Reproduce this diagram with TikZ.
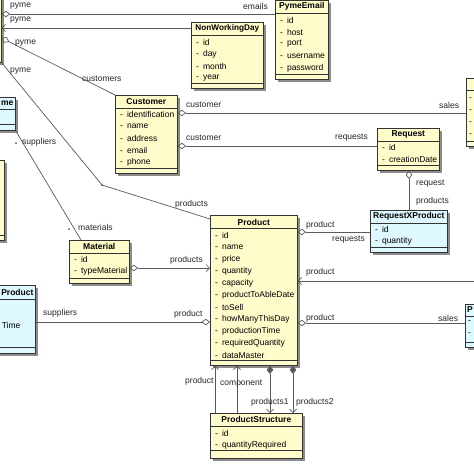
\documentclass[tikz,border=0pt]{standalone}
\usepackage{fontspec}
\setmainfont{Liberation Sans}
\usepackage{xcolor}
\usepackage{tikz}
\usetikzlibrary{calc, arrows.meta, shadows}

\definecolor{umlyellow}{HTML}{FFFCCB}
\definecolor{umlcyan}{HTML}{DDF8FE}
\definecolor{linegray}{HTML}{5A5A5A}

\begin{document}
\begin{tikzpicture}[x=1pt, y=-1pt,
    classbox/.style={draw=black!80, line width=0.6pt, fill=umlyellow, anchor=north west, inner sep=0pt,
      drop shadow={shadow xshift=2.5pt, shadow yshift=-2.5pt, fill=black!45, opacity=1}},
    sep/.style={draw=black!80, line width=0.5pt},
    title/.style={font=\fontsize{8.5}{10}\selectfont\bfseries, inner sep=0pt},
    item/.style={font=\fontsize{8.5}{10}\selectfont, anchor=west, inner sep=0pt},
    lbl/.style={font=\fontsize{8.5}{10}\selectfont, text=black!85, anchor=west, inner sep=0pt},
    assoc/.style={draw=linegray, line width=0.7pt},
    agg/.style={assoc, {Diamond[open, length=8.5pt, width=6.5pt]}-},
    aggnav/.style={assoc, {Diamond[open, length=8.5pt, width=6.5pt]}-{Straight Barb[length=3.5pt, width=7pt]}},
    comp/.style={assoc, {Diamond[length=8.5pt, width=6.5pt]}-{Straight Barb[length=3.5pt, width=7pt]}},
    nav/.style={assoc, -{Straight Barb[length=3.5pt, width=7pt]}}]

    % page
    \useasboundingbox (0,0) rectangle (474,474);
    \fill[white] (0,0) rectangle (474,474);
    \clip (0,0) rectangle (474,474);

    % Pyme (cut at the left)
    \node[classbox, minimum width=31pt, minimum height=67pt] (pyme) at (-30,-5) {};

    % PymeEmail
    \node[classbox, minimum width=53pt, minimum height=79pt] (pymeemail) at (275,0) {};
    \draw[sep] ($(pymeemail.north west)+(0,13)$) -- ($(pymeemail.north east)+(0,13)$);
    \draw[sep] ($(pymeemail.south west)+(0,-5)$) -- ($(pymeemail.south east)+(0,-5)$);
    \node[title] (pymeemail-t) at ($(pymeemail.north)+(0,6.5)$) {PymeEmail};
    \foreach \t [count=\i from 0] in {id,host,port,username,password}
      \node[item] (pymeemail-\i) at ($(pymeemail.north west)+(5,20+12*\i)$) {-\hspace{4pt}\t};

    % NonWorkingDay
    \node[classbox, minimum width=72pt, minimum height=66pt] (nonworking) at (191,22) {};
    \draw[sep] ($(nonworking.north west)+(0,13)$) -- ($(nonworking.north east)+(0,13)$);
    \draw[sep] ($(nonworking.south west)+(0,-5)$) -- ($(nonworking.south east)+(0,-5)$);
    \node[title, font=\fontsize{8.2}{10}\selectfont\bfseries] (nonworking-t) at ($(nonworking.north)+(0,6.5)$) {NonWorkingDay};
    \foreach \t [count=\i from 0] in {id,day,month,year}
      \node[item] (nonworking-\i) at ($(nonworking.north west)+(5,20+12*\i)$) {-\hspace{4pt}\t};

    % Customer
    \node[classbox, minimum width=62pt, minimum height=78pt] (customer) at (115,95) {};
    \draw[sep] ($(customer.north west)+(0,13)$) -- ($(customer.north east)+(0,13)$);
    \draw[sep] ($(customer.south west)+(0,-5)$) -- ($(customer.south east)+(0,-5)$);
    \node[title] (customer-t) at ($(customer.north)+(0,6.5)$) {Customer};
    \foreach \t [count=\i from 0] in {identification,name,address,email,phone}
      \node[item] (customer-\i) at ($(customer.north west)+(5,19+12*\i)$) {-\hspace{4pt}\t};

    % Request
    \node[classbox, minimum width=62pt, minimum height=42pt] (request) at (377,128) {};
    \draw[sep] ($(request.north west)+(0,13)$) -- ($(request.north east)+(0,13)$);
    \draw[sep] ($(request.south west)+(0,-5)$) -- ($(request.south east)+(0,-5)$);
    \node[title] (request-t) at ($(request.north)+(0,6.5)$) {Request};
    \foreach \t [count=\i from 0] in {id,creationDate}
      \node[item] (request-\i) at ($(request.north west)+(5,19+12*\i)$) {-\hspace{4pt}\t};

    % RequestXProduct
    \node[classbox, fill=umlcyan, minimum width=77pt, minimum height=42pt] (reqxprod) at (370,210) {};
    \draw[sep] ($(reqxprod.north west)+(0,13)$) -- ($(reqxprod.north east)+(0,13)$);
    \draw[sep] ($(reqxprod.south west)+(0,-5)$) -- ($(reqxprod.south east)+(0,-5)$);
    \node[title] (reqxprod-t) at ($(reqxprod.north)+(0,6.5)$) {RequestXProduct};
    \foreach \t [count=\i from 0] in {id,quantity}
      \node[item] (reqxprod-\i) at ($(reqxprod.north west)+(5,19+12*\i)$) {-\hspace{4pt}\t};

    % left boxes (cut)
    \node[classbox, fill=umlcyan, minimum width=45pt, minimum height=33pt] (supplier) at (-30,97) {};
    \draw[sep] ($(supplier.north west)+(0,12)$) -- ($(supplier.north east)+(0,12)$);
    \draw[sep] ($(supplier.south west)+(0,-6)$) -- ($(supplier.south east)+(0,-6)$);
    \node[title, anchor=east] (supplier-t) at ($(supplier.north east)+(-2,6.5)$) {me};

    \node[classbox, minimum width=34pt, minimum height=80pt] (leftbox) at (-30,160) {};
    \draw[sep] ($(leftbox.south west)+(0,-5)$) -- ($(leftbox.south east)+(0,-5)$);

    \node[classbox, fill=umlcyan, minimum width=75pt, minimum height=68pt] (leftprod) at (-40,285) {};
    \draw[sep] ($(leftprod.north west)+(0,14)$) -- ($(leftprod.north east)+(0,14)$);
    \draw[sep] ($(leftprod.south west)+(0,-6)$) -- ($(leftprod.south east)+(0,-6)$);
    \node[title, anchor=east] (leftprod-t) at ($(leftprod.north east)+(-2,7)$) {Product};
    \node[item, anchor=east] (leftprod-0) at ($(leftprod.north east)+(-15,40)$) {Time};

    % Material
    \node[classbox, minimum width=60pt, minimum height=43pt] (material) at (69,240) {};
    \draw[sep] ($(material.north west)+(0,13)$) -- ($(material.north east)+(0,13)$);
    \draw[sep] ($(material.south west)+(0,-5)$) -- ($(material.south east)+(0,-5)$);
    \node[title] (material-t) at ($(material.north)+(0,6.5)$) {Material};
    \foreach \t [count=\i from 0] in {id,typeMaterial}
      \node[item] (material-\i) at ($(material.north west)+(5,19+12*\i)$) {-\hspace{4pt}\t};

    % Product
    \node[classbox, minimum width=87pt, minimum height=150pt] (product) at (210,215) {};
    \draw[sep] ($(product.north west)+(0,13)$) -- ($(product.north east)+(0,13)$);
    \draw[sep] ($(product.south west)+(0,-5)$) -- ($(product.south east)+(0,-5)$);
    \node[title] (product-t) at ($(product.north)+(0,7)$) {Product};
    \foreach \t [count=\i from 0] in {id,name,price,quantity,capacity,productToAbleDate,toSell,howManyThisDay,productionTime,requiredQuantity,dataMaster}
      \node[item] (product-\i) at ($(product.north west)+(5,20+12*\i)$) {-\hspace{4pt}\t};

    % ProductStructure
    \node[classbox, minimum width=92pt, minimum height=45pt] (pstruct) at (210,413) {};
    \draw[sep] ($(pstruct.north west)+(0,13)$) -- ($(pstruct.north east)+(0,13)$);
    \draw[sep] ($(pstruct.south west)+(0,-8)$) -- ($(pstruct.south east)+(0,-8)$);
    \node[title] (pstruct-t) at ($(pstruct.north)+(0,6.5)$) {ProductStructure};
    \foreach \t [count=\i from 0] in {id,quantityRequired}
      \node[item] (pstruct-\i) at ($(pstruct.north west)+(5,20+12*\i)$) {-\hspace{4pt}\t};

    % right boxes (cut)
    \node[classbox, minimum width=30pt, minimum height=68pt] (sales1) at (466,78) {};
    \draw[sep] ($(sales1.north west)+(0,12)$) -- ($(sales1.north east)+(0,12)$);
    \draw[sep] ($(sales1.south west)+(0,-5)$) -- ($(sales1.south east)+(0,-5)$);
    \foreach \i in {0,...,3}
      \node[item] (sales1-\i) at ($(sales1.north west)+(3,21+12*\i)$) {-};

    \node[classbox, fill=umlcyan, minimum width=30pt, minimum height=43pt] (sales2) at (465,304) {};
    \draw[sep] ($(sales2.north west)+(0,12)$) -- ($(sales2.north east)+(0,12)$);
    \draw[sep] ($(sales2.south west)+(0,-5)$) -- ($(sales2.south east)+(0,-5)$);
    \node[title, anchor=west] (sales2-t) at ($(sales2.north west)+(2,6)$) {P};
    \foreach \i in {0,1}
      \node[item] (sales2-\i) at ($(sales2.north west)+(3,18+12.5*\i)$) {-};

    % helper points
    \coordinate (bend) at (102,185);
    \coordinate (rightend) at (480,281);
    \coordinate (sdot) at (16,143);
    \coordinate (mdot) at (69,229);

    % connectors
    \draw[agg] (pyme.east |- 0,14) -- (pymeemail.west |- 0,14);
    \draw[nav] (nonworking.west |- 0,28) -- (pyme.east |- 0,28);
    \draw[agg] (pyme.east |- 0,38) -- (customer.north west);
    \draw[assoc] (pyme.south east) -- (bend) -- ($(product.north west)+(0,4)$);
    \draw[agg] (customer.east |- 0,113) -- (sales1.west |- 0,113);
    \draw[agg] (customer.east |- 0,146) -- (request.west |- 0,146);
    \draw[agg] (request.south -| 409,0) -- (reqxprod.north -| 409,0);
    \draw[agg] (product.east |- 0,232) -- (reqxprod.west |- 0,232);
    \draw[assoc] (supplier.south east) -- ($(material.north west)+(12,0)$);
    \draw[aggnav] (material.east |- 0,268) -- (product.west |- 0,268);
    \draw[nav] (rightend) -- (product.east |- 0,281);
    \draw[agg] (product.west |- 0,322) -- (leftprod.east |- 0,322);
    \draw[agg] (product.east |- 0,323) -- (sales2.west |- 0,323);
    \draw[nav] (pstruct.north -| 215,0) -- (product.south -| 215,0);
    \draw[nav] (pstruct.north -| 237,0) -- (product.south -| 237,0);
    \draw[comp] (product.south -| 270,0) -- (pstruct.north -| 270,0);
    \draw[comp] (product.south -| 293,0) -- (pstruct.north -| 293,0);

    % small dots
    \fill[linegray] (bend) circle (1);
    \fill[linegray] (sdot) circle (1);
    \fill[linegray] (mdot) circle (1);

    % labels
    \node[lbl] (l1) at (10,6) {pyme};
    \node[lbl] (l2) at (243,6) {emails};
    \node[lbl] (l3) at (10,20) {pyme};
    \node[lbl] (l4) at (15,43) {pyme};
    \node[lbl] (l5) at (82,79) {customers};
    \node[lbl] (l6) at (10,71) {pyme};
    \node[lbl] (l7) at (175,204) {products};
    \node[lbl] (l8) at (186,105) {customer};
    \node[lbl] (l9) at (439,105) {sales};
    \node[lbl] (l10) at (186,138) {customer};
    \node[lbl] (l11) at (335,138) {requests};
    \node[lbl] (l12) at (416,184) {request};
    \node[lbl] (l13) at (416,201) {products};
    \node[lbl] (l14) at (306,225) {product};
    \node[lbl] (l15) at (332,240) {requests};
    \node[lbl] (l16) at (22,142) {suppliers};
    \node[lbl] (l17) at (78,227) {materials};
    \node[lbl] (l18) at (170,260) {products};
    \node[lbl] (l19) at (306,272) {product};
    \node[lbl] (l20) at (43,313) {suppliers};
    \node[lbl] (l21) at (174,314) {product};
    \node[lbl] (l22) at (306,318) {product};
    \node[lbl] (l23) at (438,318) {sales};
    \node[lbl] (l24) at (185,381) {product};
    \node[lbl] (l25) at (220,384) {component};
    \node[lbl] (l26) at (251,402) {products1};
    \node[lbl] (l27) at (296,402) {products2};
\end{tikzpicture}
\end{document}
